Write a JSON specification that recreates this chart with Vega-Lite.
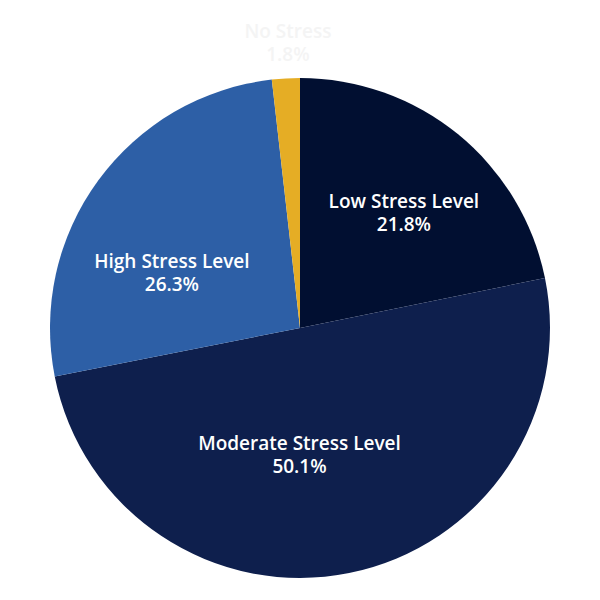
{
  "$schema": "https://vega.github.io/schema/vega-lite/v6.json",
  "width": 600,
  "height": 544,
  "autosize": {"type": "none"},
  "padding": {"left": 0, "right": 0, "top": 56, "bottom": 0},
  "background": "white",
  "data": {
    "values": [
      {"level": "Low Stress Level", "pct": 21.8, "idx": 1},
      {"level": "Moderate Stress Level", "pct": 50.1, "idx": 2},
      {"level": "High Stress Level", "pct": 26.3, "idx": 3},
      {"level": "No Stress", "pct": 1.8, "idx": 4}
    ]
  },
  "transform": [
    {"stack": "pct", "groupby": [], "sort": [{"field": "idx", "order": "ascending"}], "as": ["t0", "t1"]},
    {"calculate": "(datum.t0 + datum.t1) / 2", "as": "mid"},
    {"calculate": "datum.level + '\\n' + format(datum.pct, '.1f') + '%'", "as": "label"}
  ],
  "layer": [
    {
      "mark": {"type": "arc", "outerRadius": 250},
      "encoding": {
        "theta": {"field": "t0", "type": "quantitative", "scale": {"domain": [0, 100]}},
        "theta2": {"field": "t1"},
        "color": {
          "field": "level",
          "type": "nominal",
          "scale": {
            "domain": ["Low Stress Level", "Moderate Stress Level", "High Stress Level", "No Stress"],
            "range": ["#010f31", "#0e1f4d", "#2d5fa6", "#e5ad25"]
          },
          "legend": null
        }
      }
    },
    {
      "transform": [{"filter": "datum.idx == 1"}],
      "mark": {
        "type": "text", "radius": 150, "dx": 9, "dy": -10,
        "color": "white", "font": "Open Sans", "fontWeight": 600,
        "fontSize": 19, "lineBreak": "\n", "lineHeight": 23
      },
      "encoding": {
        "theta": {"field": "mid", "type": "quantitative", "scale": {"domain": [0, 100]}},
        "text": {"field": "label"}
      }
    },
    {
      "transform": [{"filter": "datum.idx == 2"}],
      "mark": {
        "type": "text", "radius": 150, "dx": -30, "dy": -31,
        "color": "white", "font": "Open Sans", "fontWeight": 600,
        "fontSize": 19, "lineBreak": "\n", "lineHeight": 23
      },
      "encoding": {
        "theta": {"field": "mid", "type": "quantitative", "scale": {"domain": [0, 100]}},
        "text": {"field": "label"}
      }
    },
    {
      "transform": [{"filter": "datum.idx == 3"}],
      "mark": {
        "type": "text", "radius": 150, "dx": -7, "dy": 23,
        "color": "white", "font": "Open Sans", "fontWeight": 600,
        "fontSize": 19, "lineBreak": "\n", "lineHeight": 23
      },
      "encoding": {
        "theta": {"field": "mid", "type": "quantitative", "scale": {"domain": [0, 100]}},
        "text": {"field": "label"}
      }
    },
    {
      "transform": [{"filter": "datum.idx == 4"}],
      "mark": {
        "type": "text", "radius": 285, "dx": 4, "dy": -11,
        "color": "#f4f4f4", "font": "Open Sans", "fontWeight": 600,
        "fontSize": 19, "lineBreak": "\n", "lineHeight": 23
      },
      "encoding": {
        "theta": {"field": "mid", "type": "quantitative", "scale": {"domain": [0, 100]}},
        "text": {"field": "label"}
      }
    }
  ],
  "config": {"view": {"stroke": null}}
}
